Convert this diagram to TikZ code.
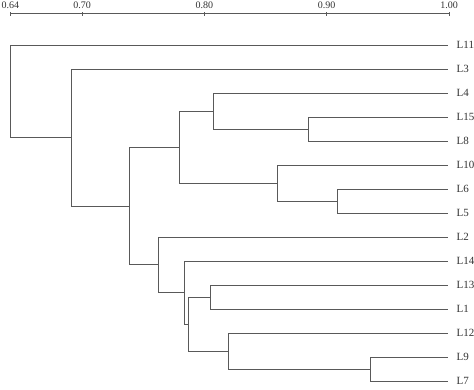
\documentclass[tikz,border=0pt]{standalone}
\usepackage{fontspec}
\setmainfont{Liberation Serif}
\begin{document}
\begin{tikzpicture}[x=1pt,y=-1pt,
  branch/.style={draw=black!65,line width=1pt},
  leaflabel/.style={anchor=west,inner sep=0pt,font=\fontsize{11}{13}\selectfont,text=black!80},
  ticklabel/.style={anchor=center,inner sep=0pt,font=\fontsize{10}{12}\selectfont,text=black!80}]
\useasboundingbox (0,0) rectangle (474,389);
% axis
\coordinate (ax0) at (10.3,13.5);
\coordinate (ax1) at (449,13.5);
\draw[branch] (ax0) -- (ax1);
\foreach \xx/\lab [count=\i] in {10.3/0.64,82/0.70,204.3/0.80,326.7/0.90,449/1.00}{
  \coordinate (t\i) at (\xx,13.5);
  \draw[branch] ([yshift=-2pt]t\i) -- ([yshift=2pt]t\i);
  \node[ticklabel] (tl\i) at (\xx,5) {\lab};
}
% leaves
\foreach \nm [count=\i from 0] in {L11,L3,L4,L15,L8,L10,L6,L5,L2,L14,L13,L1,L12,L9,L7}{
  \coordinate (\nm) at (448,45+24*\i);
  \node[leaflabel] (lab\nm) at (456.5,45+24*\i) {\nm};
}
% internal nodes
\coordinate (R) at (10.3,91.25);
\coordinate (A) at (71.3,137.5);
\coordinate (B) at (129.7,206);
\coordinate (C) at (179.3,147);
\coordinate (D) at (213.3,111);
\coordinate (E) at (308,129);
\coordinate (F) at (277.3,183);
\coordinate (G) at (337.7,201);
\coordinate (H) at (158.7,264.75);
\coordinate (I) at (184,292.5);
\coordinate (J) at (188.7,324);
\coordinate (K) at (210,297);
\coordinate (Lnode) at (228.3,351);
\coordinate (M) at (370,369);
% branches
\draw[branch] (R) |- (L11); \draw[branch] (R) |- (A);
\draw[branch] (A) |- (L3);  \draw[branch] (A) |- (B);
\draw[branch] (B) |- (C);   \draw[branch] (B) |- (H);
\draw[branch] (C) |- (D);   \draw[branch] (C) |- (F);
\draw[branch] (D) |- (L4);  \draw[branch] (D) |- (E);
\draw[branch] (E) |- (L15); \draw[branch] (E) |- (L8);
\draw[branch] (F) |- (L10); \draw[branch] (F) |- (G);
\draw[branch] (G) |- (L6);  \draw[branch] (G) |- (L5);
\draw[branch] (H) |- (L2);  \draw[branch] (H) |- (I);
\draw[branch] (I) |- (L14); \draw[branch] (I) |- (J);
\draw[branch] (J) |- (K);   \draw[branch] (J) |- (Lnode);
\draw[branch] (K) |- (L13); \draw[branch] (K) |- (L1);
\draw[branch] (Lnode) |- (L12); \draw[branch] (Lnode) |- (M);
\draw[branch] (M) |- (L9);  \draw[branch] (M) |- (L7);
\end{tikzpicture}
\end{document}
